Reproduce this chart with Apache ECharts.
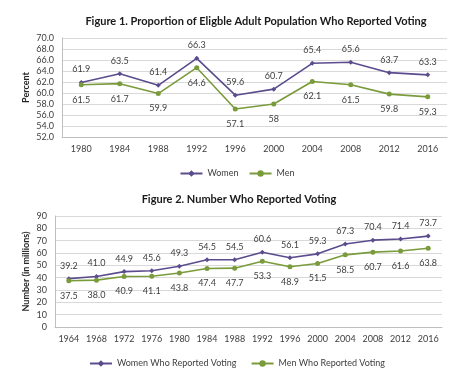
<!DOCTYPE html>
<html><head><meta charset="utf-8">
<script src="https://cdn.jsdelivr.net/npm/echarts@6/dist/echarts.min.js"></script>
<style>html,body{margin:0;padding:0;background:#fff}#c{width:474px;height:374px}</style>
</head><body><div id="c"></div>
<script>
const years1 = ['1980','1984','1988','1992','1996','2000','2004','2008','2012','2016'];
const women1 = [61.9,63.5,61.4,66.3,59.6,60.7,65.4,65.6,63.7,63.3];
const men1 = [61.5,61.7,59.9,64.6,57.1,58,62.1,61.5,59.8,59.3];
const years2 = ['1964','1968','1972','1976','1980','1984','1988','1992','1996','2000','2004','2008','2012','2016'];
const women2 = [39.2,41.0,44.9,45.6,49.3,54.5,54.5,60.6,56.1,59.3,67.3,70.4,71.4,73.7];
const men2 = [37.5,38.0,40.9,41.1,43.8,47.4,47.7,53.3,48.9,51.5,58.5,60.7,61.6,63.8];

const PURPLE = '#5b4c8e', GREEN = '#7a9b3b';
const FONT = 'Lato';
const FS = 9;
const txt = {fontFamily: FONT, fontSize: FS, color: '#404040'};
const chart = echarts.init(document.getElementById('c'), null, {renderer: 'canvas'});

function xAx(idx, data) {
  return {type: 'category', gridIndex: idx, data: data, boundaryGap: true,
    axisLine: {lineStyle: {color: '#bfbfbf'}}, axisTick: {show: false},
    axisLabel: Object.assign({}, txt, {margin: 8, interval: 0})};
}
function yAx(idx, min, max, interval, name, fmt, gap) {
  return {type: 'value', gridIndex: idx, min: min, max: max, interval: interval,
    name: name, nameLocation: 'middle', nameGap: gap, nameRotate: 90, nameMoveOverlap: false,
    nameTextStyle: {fontFamily: FONT, fontSize: FS, fontWeight: 'bold', color: '#262626'},
    axisLine: {show: true, lineStyle: {color: '#bfbfbf'}}, axisTick: {show: false},
    splitLine: {lineStyle: {color: '#d9d9d9'}},
    axisLabel: Object.assign({}, txt, {margin: 8, formatter: fmt})};
}
function ser(name, data, color, xi, pos, fmt, sym) {
  return {name: name, type: 'line', xAxisIndex: xi, yAxisIndex: xi, data: data,
    symbol: sym, symbolSize: 5, color: color,
    lineStyle: {width: 1.6, color: color}, itemStyle: {color: color},
    label: {show: true, position: pos, distance: pos === 'top' ? 6 : 8,
      fontFamily: FONT, fontSize: FS, color: '#404040', formatter: fmt}};
}
const f1 = p => String(p.value);
const f2 = p => p.value.toFixed(1);

chart.setOption({
  animation: false,
  title: [
    {text: 'Figure 1. Proportion of Eligble Adult Population Who Reported Voting', left: 251, textAlign: 'center', top: 11,
     textStyle: {fontFamily: FONT, fontSize: 11, fontWeight: 'bold', color: '#1a1a1a'}},
    {text: 'Figure 2. Number Who Reported Voting', left: 234, textAlign: 'center', top: 189,
     textStyle: {fontFamily: FONT, fontSize: 11, fontWeight: 'bold', color: '#1a1a1a'}}
  ],
  grid: [
    {left: 62, right: 27, top: 38, bottom: 237},
    {left: 55, right: 32, top: 216, bottom: 47}
  ],
  legend: [
    {data: ['Women', 'Men'], left: 'center', top: 164, itemWidth: 22, itemHeight: 8, itemGap: 10,
     textStyle: {fontFamily: FONT, fontSize: FS, color: '#404040'}},
    {data: ['Women Who Reported Voting', 'Men Who Reported Voting'], left: 'center', top: 354, itemWidth: 22, itemHeight: 8, itemGap: 14,
     textStyle: {fontFamily: FONT, fontSize: FS, color: '#404040'}}
  ],
  xAxis: [xAx(0, years1), xAx(1, years2)],
  yAxis: [
    yAx(0, 52, 70, 2, 'Percent', v => v.toFixed(1), 31),
    yAx(1, 0, 90, 10, 'Number (in millions)', v => String(v), 24)
  ],
  series: [
    ser('Women', women1, PURPLE, 0, 'top', f1, 'diamond'),
    ser('Men', men1, GREEN, 0, 'bottom', f1, 'circle'),
    ser('Women Who Reported Voting', women2, PURPLE, 1, 'top', f2, 'diamond'),
    ser('Men Who Reported Voting', men2, GREEN, 1, 'bottom', f2, 'circle')
  ]
});
</script></body></html>
